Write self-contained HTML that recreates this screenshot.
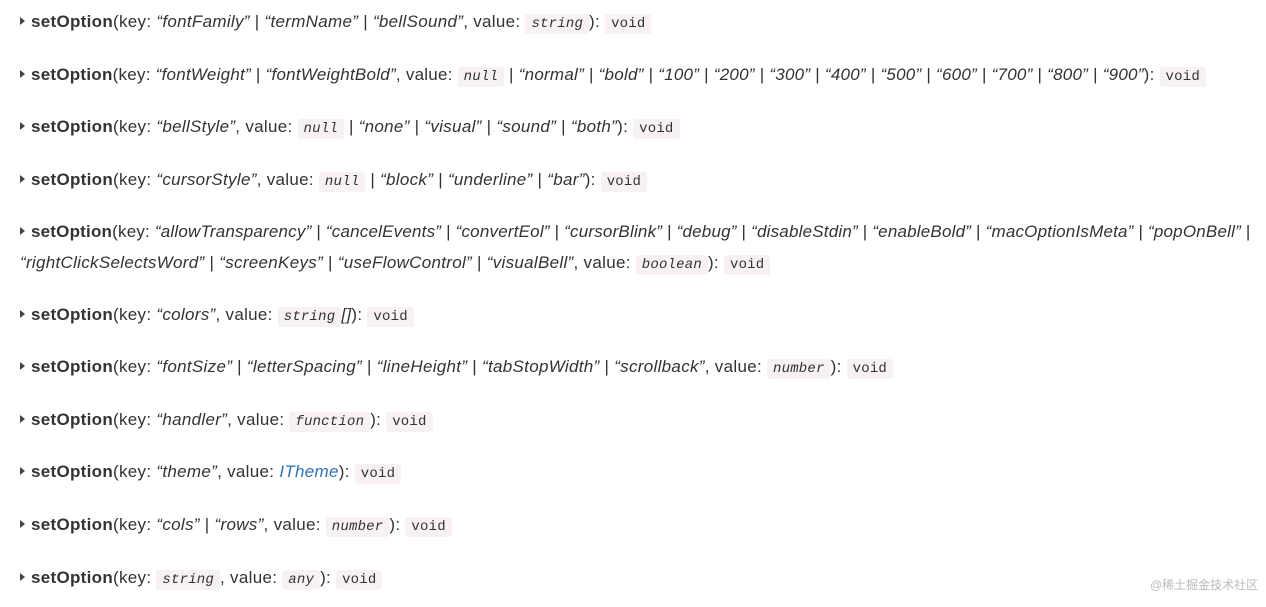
<!DOCTYPE html>
<html><head><meta charset="utf-8"><style>
body{margin:0;width:1266px;height:607px;background:#fff;position:relative;overflow:hidden;font-family:"Liberation Sans","Noto Sans CJK SC",sans-serif;color:#333;}
.l{position:absolute;left:20px;font-size:17px;white-space:nowrap;letter-spacing:0.3px;line-height:30px;}
.l::before{content:"";display:inline-block;width:0;height:0;border-left:5px solid #444;border-top:4px solid transparent;border-bottom:4px solid transparent;margin-right:6px;vertical-align:2px;}
.l2{position:absolute;left:20px;font-size:17px;white-space:nowrap;letter-spacing:0.3px;line-height:30px;}
b{font-weight:bold;}
i{font-style:italic;}
code{font-family:"Liberation Mono",monospace;font-size:14px;background:#f7f1f1;padding:2px 6px;border-radius:3px;letter-spacing:0.2px;}
code.t{font-style:italic;}
a{color:#2e73b5;font-style:italic;}
.wm{position:absolute;left:1150px;top:576px;font-size:12px;color:#bbb;white-space:nowrap;}
</style></head><body>
<div class="l" style="top:7px"><b>setOption</b>(key: <i>“fontFamily”</i> | <i>“termName”</i> | <i>“bellSound”</i>, value: <code class="t">string</code>): <code>void</code></div>
<div class="l" style="top:60px;letter-spacing:0.25px"><b>setOption</b>(key: <i>“fontWeight”</i> | <i>“fontWeightBold”</i>, value: <code class="t">null</code> | <i>“normal”</i> | <i>“bold”</i> | <i>“100”</i> | <i>“200”</i> | <i>“300”</i> | <i>“400”</i> | <i>“500”</i> | <i>“600”</i> | <i>“700”</i> | <i>“800”</i> | <i>“900”</i>): <code>void</code></div>
<div class="l" style="top:112px"><b>setOption</b>(key: <i>“bellStyle”</i>, value: <code class="t">null</code> | <i>“none”</i> | <i>“visual”</i> | <i>“sound”</i> | <i>“both”</i>): <code>void</code></div>
<div class="l" style="top:165px"><b>setOption</b>(key: <i>“cursorStyle”</i>, value: <code class="t">null</code> | <i>“block”</i> | <i>“underline”</i> | <i>“bar”</i>): <code>void</code></div>
<div class="l" style="top:217px;letter-spacing:0.2px"><b>setOption</b>(key: <i>“allowTransparency”</i> | <i>“cancelEvents”</i> | <i>“convertEol”</i> | <i>“cursorBlink”</i> | <i>“debug”</i> | <i>“disableStdin”</i> | <i>“enableBold”</i> | <i>“macOptionIsMeta”</i> | <i>“popOnBell”</i> |</div>
<div class="l2" style="top:248px"><i>“rightClickSelectsWord”</i> | <i>“screenKeys”</i> | <i>“useFlowControl”</i> | <i>“visualBell”</i>, value: <code class="t">boolean</code>): <code>void</code></div>
<div class="l" style="top:300px"><b>setOption</b>(key: <i>“colors”</i>, value: <code class="t">string</code><i>[]</i>): <code>void</code></div>
<div class="l" style="top:352px"><b>setOption</b>(key: <i>“fontSize”</i> | <i>“letterSpacing”</i> | <i>“lineHeight”</i> | <i>“tabStopWidth”</i> | <i>“scrollback”</i>, value: <code class="t">number</code>): <code>void</code></div>
<div class="l" style="top:405px"><b>setOption</b>(key: <i>“handler”</i>, value: <code class="t">function</code>): <code>void</code></div>
<div class="l" style="top:457px"><b>setOption</b>(key: <i>“theme”</i>, value: <a>ITheme</a>): <code>void</code></div>
<div class="l" style="top:510px"><b>setOption</b>(key: <i>“cols”</i> | <i>“rows”</i>, value: <code class="t">number</code>): <code>void</code></div>
<div class="l" style="top:563px"><b>setOption</b>(key: <code class="t">string</code>, value: <code class="t">any</code>): <code>void</code></div>
<div class="wm">@稀土掘金技术社区</div>
</body></html>
